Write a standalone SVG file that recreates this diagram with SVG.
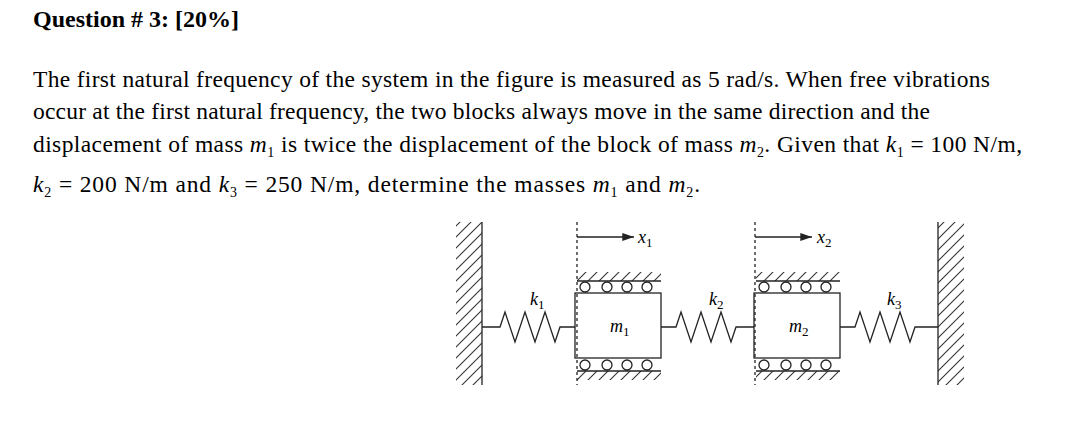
<svg xmlns="http://www.w3.org/2000/svg" width="1079" height="424" viewBox="0 0 1079 424">
<style>
text{font-family:"Liberation Serif",serif;fill:#000}
.t{font-size:23.5px}
.l{stroke:#222;stroke-width:1.3;fill:none}
.i{font-style:italic;font-size:18px}
.s{font-style:normal}
</style>
<defs>
<pattern id="hat" width="11" height="11" patternUnits="userSpaceOnUse"><path d="M0 11L11 0M-1 1L1 -1M10 12L12 10" stroke="#333" stroke-width="1.1"/></pattern>
<marker id="ar" markerWidth="9" markerHeight="6" refX="9" refY="3" orient="auto"><path d="M0 0L9 3L0 6z" fill="#222"/></marker>
</defs>
<rect width="1079" height="424" fill="#fff"/>
<text x="33" y="27" style="font-size:24px;font-weight:bold">Question # 3: [20%]</text>
<text class="t" x="33" y="87" textLength="957" lengthAdjust="spacing">The first natural frequency of the system in the figure is measured as  5 rad/s. When free vibrations</text>
<text class="t" x="33" y="119" textLength="897" lengthAdjust="spacing">occur at the first natural frequency, the two blocks always move in the same direction and the</text>
<text class="t" x="33" y="152" textLength="989" lengthAdjust="spacing">displacement of mass  <tspan font-style="italic">m</tspan><tspan font-size="14" dy="5">1</tspan><tspan dy="-5">  is twice the displacement of the block of mass  </tspan><tspan font-style="italic">m</tspan><tspan font-size="14" dy="5">2</tspan><tspan dy="-5">. Given that  </tspan><tspan font-style="italic">k</tspan><tspan font-size="14" dy="5">1</tspan><tspan dy="-5"> = 100 N/m,</tspan></text>
<text class="t" x="33" y="192" textLength="667" lengthAdjust="spacing"><tspan font-style="italic">k</tspan><tspan font-size="14" dy="5">2</tspan><tspan dy="-5"> = 200 N/m  and  </tspan><tspan font-style="italic">k</tspan><tspan font-size="14" dy="5">3</tspan><tspan dy="-5"> = 250 N/m, determine the masses  </tspan><tspan font-style="italic">m</tspan><tspan font-size="14" dy="5">1</tspan><tspan dy="-5">  and  </tspan><tspan font-style="italic">m</tspan><tspan font-size="14" dy="5">2</tspan><tspan dy="-5">.</tspan></text>

<g id="wall-left"><rect x="456" y="222" width="26" height="163" fill="url(#hat)"/><line class="l" x1="482" y1="222" x2="482" y2="385"/></g>
<g id="wall-right"><rect x="938" y="222" width="26" height="163" fill="url(#hat)"/><line class="l" x1="938" y1="222" x2="938" y2="385"/></g>

<g id="mass1">
<rect x="575" y="293" width="86" height="65" fill="#fff" class="l"/>
<text class="i" x="610" y="332">m<tspan class="s" font-size="13" dy="4">1</tspan></text>
<rect x="577" y="272" width="84" height="9" fill="url(#hat)"/><line class="l" x1="577" y1="281" x2="661" y2="281"/>
<rect x="577" y="371" width="84" height="9" fill="url(#hat)"/><line class="l" x1="577" y1="371" x2="661" y2="371"/>
<g class="l"><circle cx="585" cy="287" r="5"/><circle cx="607" cy="287" r="5"/><circle cx="627" cy="287" r="5"/><circle cx="647" cy="287" r="5"/>
<circle cx="585" cy="365" r="5"/><circle cx="607" cy="365" r="5"/><circle cx="627" cy="365" r="5"/><circle cx="647" cy="365" r="5"/></g>
</g>
<g id="mass2">
<rect x="754" y="293" width="86" height="65" fill="#fff" class="l"/>
<text class="i" x="789" y="332">m<tspan class="s" font-size="13" dy="4">2</tspan></text>
<rect x="756" y="272" width="84" height="9" fill="url(#hat)"/><line class="l" x1="756" y1="281" x2="840" y2="281"/>
<rect x="756" y="371" width="84" height="9" fill="url(#hat)"/><line class="l" x1="756" y1="371" x2="840" y2="371"/>
<g class="l"><circle cx="764" cy="287" r="5"/><circle cx="786" cy="287" r="5"/><circle cx="806" cy="287" r="5"/><circle cx="826" cy="287" r="5"/>
<circle cx="764" cy="365" r="5"/><circle cx="786" cy="365" r="5"/><circle cx="806" cy="365" r="5"/><circle cx="826" cy="365" r="5"/></g>
</g>

<g id="connectors">
<path class="l" d="M482 327H500L505 312L515 342L525 312L535 342L545 312L555 342L560 327H575"/>
<path class="l" d="M661 327H676L681 312L691 342L701 312L711 342L721 312L731 342L736 327H754"/>
<path class="l" d="M840 327H855L860 312L870 342L880 312L890 342L900 312L910 342L915 327H938"/>
<line class="l" x1="577" y1="222" x2="577" y2="385" stroke-dasharray="3,3"/>
<line class="l" x1="755" y1="222" x2="755" y2="385" stroke-dasharray="3,3"/>
<line class="l" x1="577" y1="237" x2="634" y2="237" marker-end="url(#ar)"/>
<line class="l" x1="755" y1="237" x2="812" y2="237" marker-end="url(#ar)"/>
</g>
<g id="labels">
<text class="i" x="638" y="243">x<tspan class="s" font-size="13" dy="4">1</tspan></text>
<text class="i" x="817" y="243">x<tspan class="s" font-size="13" dy="4">2</tspan></text>
<text class="i" x="530" y="305">k<tspan class="s" font-size="13" dy="4">1</tspan></text>
<text class="i" x="709" y="305">k<tspan class="s" font-size="13" dy="4">2</tspan></text>
<text class="i" x="887" y="305">k<tspan class="s" font-size="13" dy="4">3</tspan></text>
</g>
</svg>
